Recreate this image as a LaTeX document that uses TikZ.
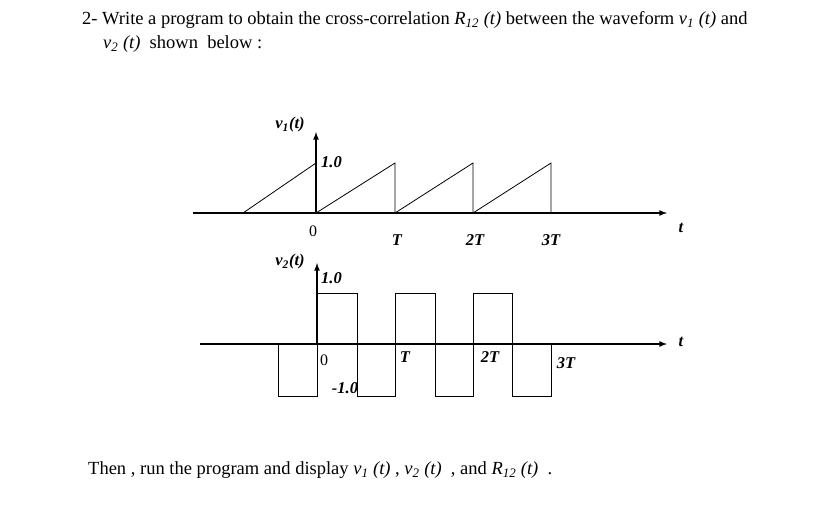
\documentclass[tikz,border=0pt]{standalone}
\usepackage{fontspec}
\setmainfont{Liberation Serif}
\begin{document}
\begin{tikzpicture}[x=1pt,y=-1pt,
  ax/.style={line width=1.6pt,-latex},
  wf/.style={line width=0.8pt},
  lb/.style={font=\fontsize{16.5}{18}\selectfont\bfseries\itshape, inner sep=1pt},
  txt/.style={font=\fontsize{18.5}{21}\selectfont, anchor=west, inner sep=0pt}]
\useasboundingbox (0,0) rectangle (826,512);
\node[txt] (t1) at (82,20) {2- Write a program to obtain the cross-correlation \textit{R}\textsubscript{\textit{12}} \textit{(t)} between the waveform \textit{v\textsubscript{1}} \textit{(t)} and};
\node[txt] (t2) at (103,44) {\textit{v\textsubscript{2}} \textit{(t)}\ \ shown\ \ below :};
\node[txt] (t3) at (88,470) {Then , run the program and display \textit{v\textsubscript{1}} \textit{(t)} , \textit{v\textsubscript{2}} \textit{(t)}\ \ , and \textit{R}\textsubscript{\textit{12}} \textit{(t)}\ \ .};
% top waveform
\coordinate (a1s) at (193,213); \coordinate (a1e) at (667,213);
\coordinate (y1s) at (316,213); \coordinate (y1e) at (316,132);
\draw[ax] (a1s) -- (a1e);
\draw[ax] (y1s) -- (y1e);
\draw[wf] (243,213) -- (316,163) (316,213) -- (395,163) -- (395,213) -- (473,163) -- (473,213) -- (551,163) -- (551,213);
\node[lb] (v1) at (290,125) {v\textsubscript{1}(t)};
\node[lb,anchor=west] (one1) at (320,162) {1.0};
\node[font=\fontsize{16}{18}\selectfont, inner sep=1pt] (z1) at (313,231) {0};
\node[lb] (T1) at (397,240) {T};
\node[lb] (T2) at (475,240) {2T};
\node[lb] (T3) at (551,240) {3T};
\node[lb] (tt1) at (681,228) {t};
% bottom waveform
\coordinate (a2s) at (200,344); \coordinate (a2e) at (667,344);
\coordinate (y2s) at (317,344); \coordinate (y2e) at (317,263);
\draw[ax] (a2s) -- (a2e);
\draw[ax] (y2s) -- (y2e);
\draw[wf] (278,344) -- (278,396) -- (317,396) -- (317,293) -- (357,293) -- (357,396) -- (395,396) -- (395,293) -- (435,293) -- (435,396) -- (473,396) -- (473,293) -- (512,293) -- (512,396) -- (551,396) -- (551,344);
\node[lb] (v2) at (290,262) {v\textsubscript{2}(t)};
\node[lb,anchor=west] (one2) at (320,278) {1.0};
\node[font=\fontsize{16}{18}\selectfont, inner sep=1pt] (z2) at (324,360) {0};
\node[lb] (B1) at (405,357) {T};
\node[lb] (B2) at (490,357) {2T};
\node[lb] (B3) at (566,363) {3T};
\node[lb] (m1) at (345,388) {-1.0};
\node[lb] (tt2) at (681,342) {t};
\end{tikzpicture}
\end{document}
